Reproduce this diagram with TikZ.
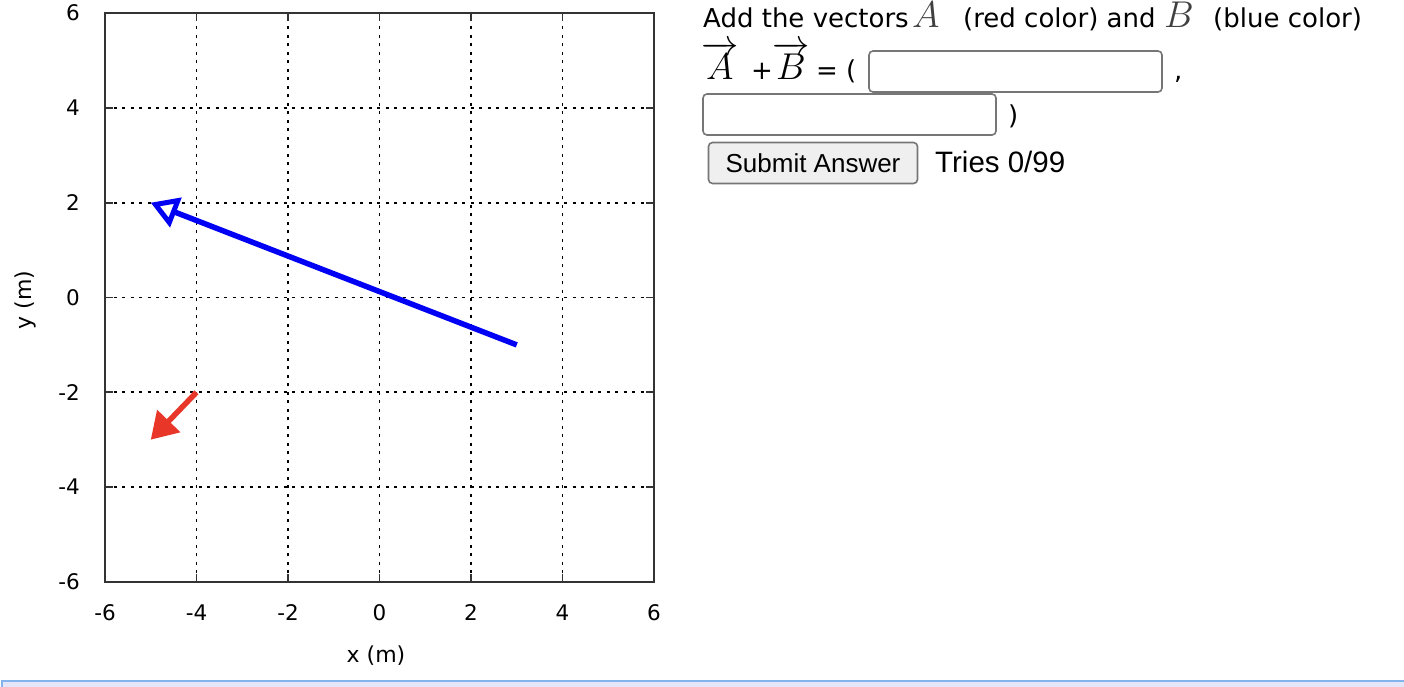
\documentclass[tikz,border=0pt]{standalone}
\usepackage{fontspec}
\setmainfont{DejaVu Sans}
\newfontfamily\arialfont{Liberation Sans}
\usetikzlibrary{arrows.meta}
\definecolor{vecblue}{RGB}{0,0,245}
\definecolor{vecred}{RGB}{232,54,40}
\definecolor{boxgray}{RGB}{118,118,118}
\definecolor{btnfill}{RGB}{239,239,239}
\definecolor{barfill}{RGB}{230,230,250}
\definecolor{barline}{RGB}{132,180,236}
\newcommand{\bigmath}[1]{\scalebox{1.5}{\Huge$#1$}}
\tikzset{
  frame/.style={draw=black!80, line width=2pt},
  gridline/.style={draw=black, line width=1.9pt, dash pattern=on 3pt off 5.5pt},
  tickmark/.style={draw=black!80, line width=1.8pt},
  ticklabel/.style={inner sep=0pt, font=\fontsize{21.5}{25}\selectfont},
  axislabel/.style={inner sep=0pt, font=\fontsize{22}{26}\selectfont},
  vecarrow/.style={line width=5.5pt, -{Triangle[open, length=27pt, width=31pt, line width=5pt]}},
  vecarrowfilled/.style={line width=5.5pt, -{Triangle[length=26pt, width=31pt]}},
  bodytext/.style={inner sep=0pt, anchor=base west, font=\fontsize{26}{31}\selectfont},
  mathtext/.style={inner sep=0pt, anchor=base west},
  inputbox/.style={draw=boxgray, line width=1.6pt, rounded corners=4pt, fill=white},
  buttonbox/.style={draw=boxgray, line width=1.6pt, rounded corners=4pt, fill=btnfill},
}
\begin{document}
\begin{tikzpicture}[x=1pt, y=-1pt]
\useasboundingbox (0,0) rectangle (1404,686);
\fill[white] (0,0) rectangle (1404,686);
% ---------- plot ----------
\begin{scope}[shift={(379.5,297.5)}, x=45.75pt, y=47.4pt]
  \foreach \v in {-4,-2,0,2,4} {
    \draw[gridline] (\v,-6) -- (\v,6);
    \draw[gridline] (-6,\v) -- (6,\v);
  }
  \foreach \v in {-4,-2,0,2,4} {
    \draw[tickmark] (\v,-6) -- ++(0,0.16);
    \draw[tickmark] (\v,6) -- ++(0,-0.16);
    \draw[tickmark] (-6,\v) -- ++(0.17,0);
    \draw[tickmark] (6,\v) -- ++(-0.17,0);
  }
  \draw[frame] (-6,-6) rectangle (6,6);
  \foreach \v in {-6,-4,-2,0,2,4,6} {
    \node[ticklabel, anchor=east] (yl\v) at ([xshift=-25pt]-6,\v) {\v};
    \node[ticklabel] (xl\v) at ([yshift=-31pt]\v,-6) {\v};
  }
  \coordinate (b0) at (3,-1);
  \coordinate (b1) at (-5,2);
  \coordinate (a0) at (-4,-2);
  \coordinate (a1) at (-5,-3);
  \draw[vecarrow, draw=vecblue] (b0) -- (b1);
  \draw[vecarrowfilled, draw=vecred, fill=vecred] (a0) -- (a1);
\end{scope}
\node[axislabel] (xlab) at (376,656) {x (m)};
\node[axislabel, rotate=90] (ylab) at (25,300) {y (m)};
% ---------- question text ----------
\node[bodytext] (t1) at (703,27) {Add the vectors};
\node[mathtext, text=black!75] (mA) at (912,27) {\bigmath{A}};
\node[bodytext] (t2) at (963,27) {(red color) and};
\node[mathtext, text=black!75] (mB) at (1164,27) {\bigmath{B}};
\node[bodytext] (t3) at (1213,27) {(blue color)};
\node[mathtext] (vA) at (701,79) {\bigmath{\overrightarrow{A}}};
\node[bodytext] (plus) at (751,79) {+};
\node[mathtext] (vB) at (772,79) {\bigmath{\overrightarrow{B}}};
\node[bodytext] (eq) at (816,79) {= (};
\draw[inputbox] (869,51) rectangle (1162,92);
\node[bodytext] (comma) at (1174,79) {,};
\draw[inputbox] (703,94) rectangle (996,135);
\node[bodytext] (rpar) at (1008,124) {)};
\node[buttonbox, minimum width=209pt, minimum height=41pt, inner sep=0pt] (btn) at (813,163) {};
\node[inner sep=0pt, anchor=base, font=\arialfont\fontsize{26}{31}\selectfont] (btntext) at (813,172) {Submit Answer};
\node[inner sep=0pt, anchor=base west, font=\arialfont\fontsize{29.5}{34}\selectfont] (tries) at (935,172) {Tries 0/99};
% ---------- bottom bar ----------
\draw[draw=barline, fill=barfill, line width=2pt] (2,681) rectangle (1410,700);
\end{tikzpicture}
\end{document}
